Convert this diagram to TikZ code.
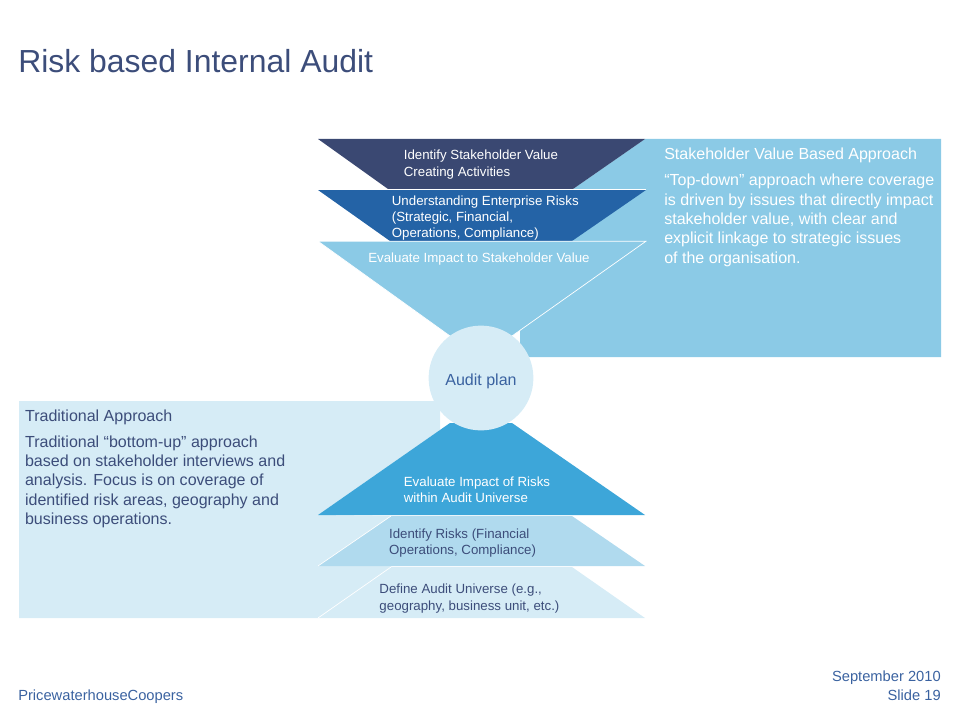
\documentclass[tikz,border=0pt]{standalone}
\usepackage{fontspec}
\setmainfont{Liberation Sans}
\definecolor{navyband}{HTML}{3A4872}
\definecolor{blueband}{HTML}{2463A6}
\definecolor{skyband}{HTML}{8BCAE6}
\definecolor{oceanband}{HTML}{3DA6D9}
\definecolor{mistband}{HTML}{B0DAEE}
\definecolor{paleband}{HTML}{D6ECF6}
\definecolor{inktext}{HTML}{3C4D7A}
\definecolor{foottext}{HTML}{3A62A0}
\tikzset{
  band/.style={draw=white, line width=0.5pt},
  smalltext/.style={anchor=north west, inner sep=0pt, align=left, font=\fontsize{9.45}{11.75}\selectfont},
  bigtext/.style={anchor=north west, inner sep=0pt, align=left, font=\fontsize{11.4}{13.75}\selectfont},
  foot/.style={inner sep=0pt, text=foottext, font=\fontsize{10.45}{12}\selectfont}
}
\begin{document}
\begin{tikzpicture}
\useasboundingbox (0,0) rectangle (24,18);
\node[anchor=base west, inner sep=0pt, text=inktext, font=\fontsize{22.7}{26}\selectfont] (title) at (0.45,16.18) {Risk based Internal Audit};
%panels behind the funnels
\fill[skyband] (16.125,14.525) -- (23.525,14.525) -- (23.525,9.075) -- (13,9.075) -- (13,9.79) -- (14.3,11.975) -- (14.325,13.275) -- cycle;
\fill[paleband] (0.475,7.975) -- (11,7.975) -- (11,7.25) -- (7.95,5.125) -- (9.775,5.1) -- (9.775,3.8) -- (7.95,2.55) -- (0.475,2.55) -- cycle;
%top funnel
\fill[navyband] (7.95,14.525) -- (16.125,14.525) -- (14.325,13.275) -- (9.7,13.275) -- cycle;
\fill[blueband] (7.95,13.25) -- (16.15,13.25) -- (14.3,11.975) -- (9.75,11.975) -- cycle;
\draw[band, fill=skyband] (7.95,11.97) -- (16.15,11.97) -- (12.8,9.6) -- (11.25,9.6) -- cycle;
\draw[white, line width=0.5pt] (7.95,13.26) -- (16.15,13.26);
%bottom funnel
\fill[oceanband] (11.25,7.425) -- (12.8,7.425) -- (16.125,5.125) -- (7.95,5.125) -- cycle;
\fill[mistband] (9.775,5.1) -- (14.3,5.1) -- (16.125,3.85) -- (7.95,3.85) -- cycle;
\fill[paleband] (9.775,3.825) -- (14.3,3.825) -- (16.125,2.55) -- (7.95,2.55) -- cycle;
\draw[white, line width=0.5pt] (7.95,2.55) -- (9.775,3.825);
\draw[white, line width=0.5pt] (7.95,3.85) -- (9.775,5.1);
\node[circle, fill=paleband, inner sep=0pt, minimum size=2.62cm, text height=12.4pt, text=foottext, font=\fontsize{11.4}{13}\selectfont] (plan) at (12.025,8.55) {Audit plan};
%funnel labels
\node[smalltext, text=white] (identifyvalue) at (10.09,14.26) {Identify Stakeholder Value\\Creating Activities};
\node[smalltext, text=white, font=\fontsize{9.45}{11.4}\selectfont] (enterprise) at (9.79,13.12) {Understanding Enterprise Risks\\(Strategic, Financial,\\Operations, Compliance)};
\node[smalltext, text=white] (impactvalue) at (9.2,11.68) {Evaluate Impact to Stakeholder Value};
\node[smalltext, text=white, font=\fontsize{9.45}{11.4}\selectfont] (impactrisks) at (10.09,6.08) {Evaluate Impact of Risks\\within Audit Universe};
\node[smalltext, text=inktext] (identifyrisks) at (9.72,4.79) {Identify Risks (Financial\\Operations, Compliance)};
\node[smalltext, text=inktext] (universe) at (9.48,3.4) {Define Audit Universe (e.g.,\\geography, business unit, etc.)};
%panel texts
\node[bigtext, text=white] (valuehead) at (16.6,14.3) {Stakeholder Value Based Approach};
\node[bigtext, text=white] (valuebody) at (16.6,13.65) {“Top-down” approach where coverage\\is driven by issues that directly impact\\stakeholder value, with clear and\\explicit linkage to strategic issues\\of the organisation.};
\node[bigtext, text=inktext] (tradhead) at (0.62,7.77) {Traditional Approach};
\node[bigtext, text=inktext] (tradbody) at (0.62,7.12) {Traditional “bottom-up” approach\\based on stakeholder interviews and\\analysis. Focus is on coverage of\\identified risk areas, geography and\\business operations.};
%footer
\node[foot, anchor=base west] (firm) at (0.45,0.5) {PricewaterhouseCoopers};
\node[foot, anchor=base east] (month) at (23.525,0.97) {September 2010};
\node[foot, anchor=base east] (slide) at (23.525,0.5) {Slide 19};
\end{tikzpicture}
\end{document}
